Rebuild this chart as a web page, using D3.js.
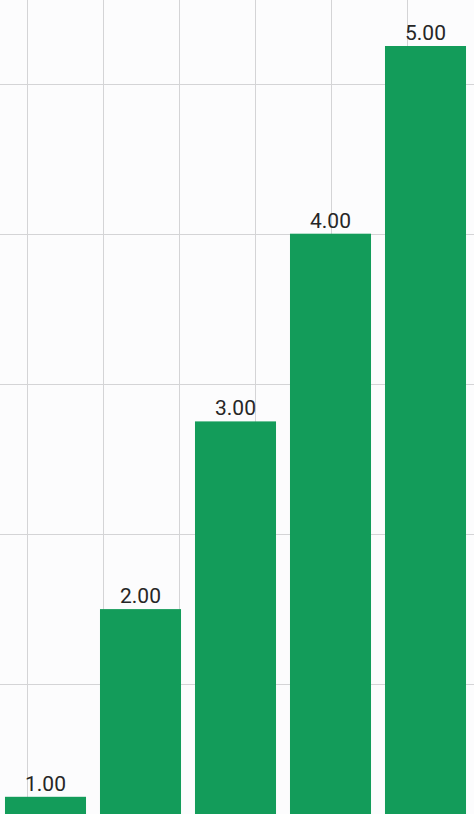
<head>
	<script src="https://d3js.org/d3.v7.min.js"></script>
	<style type="text/css">
		body { margin: 0; background: #fcfcfd; }
		.grid line { stroke: #d4d4d6; stroke-width: 1; }
		.bar-label { font-family: Roboto, sans-serif; font-size: 21px; fill: #262626; }
	</style>
</head>
<body>
	<script type="text/javascript">
		const categories = ['A', 'B', 'C', 'D', 'E']
		const values = [1, 2, 3, 4, 5]
		const yTicks = [0, 0.8, 1.6, 2.4, 3.2, 4.0, 4.8, 5.6]
		const xGridTicks = [0, 1, 2, 3, 4, 5]

		const width = 474, height = 814

		const svg = d3.select('body').append('svg')
			.attr('width', width)
			.attr('height', height)

		// plot is cropped: baseline sits below the visible window
		const y = d3.scaleLinear()
			.domain([0, 5])
			.range([984.5, 46])
		const x = d3.scaleBand()
			.domain(categories)
			.range([-2, 473])
			.paddingInner(0.147)
			.paddingOuter(0.0735)
		const gx = d3.scaleLinear()
			.domain([0, 1])
			.range([26.7, 102.7])

		const grid = svg.append('g').attr('class', 'grid')
		grid.selectAll('line.h')
			.data(yTicks)
			.enter().append('line')
			.attr('class', 'h')
			.attr('x1', 0)
			.attr('x2', width)
			.attr('y1', d => Math.round(y(d)) + 0.5)
			.attr('y2', d => Math.round(y(d)) + 0.5)
		grid.selectAll('line.v')
			.data(xGridTicks)
			.enter().append('line')
			.attr('class', 'v')
			.attr('y1', 0)
			.attr('y2', height)
			.attr('x1', d => Math.round(gx(d)) + 0.5)
			.attr('x2', d => Math.round(gx(d)) + 0.5)

		svg.append('g').attr('class', 'bars')
			.selectAll('rect')
			.data(values)
			.enter().append('rect')
			.attr('x', (d, i) => x(categories[i]))
			.attr('y', d => y(d))
			.attr('width', x.bandwidth())
			.attr('height', d => y(0) - y(d))
			.style('fill', '#139c5a')

		svg.append('g').attr('class', 'labels')
			.selectAll('text')
			.data(values)
			.enter().append('text')
			.attr('class', 'bar-label')
			.attr('x', (d, i) => x(categories[i]) + x.bandwidth() / 2)
			.attr('y', d => y(d))
			.attr('dy', -6)
			.attr('text-anchor', 'middle')
			.text(d => d.toFixed(2))
	</script>
</body>
